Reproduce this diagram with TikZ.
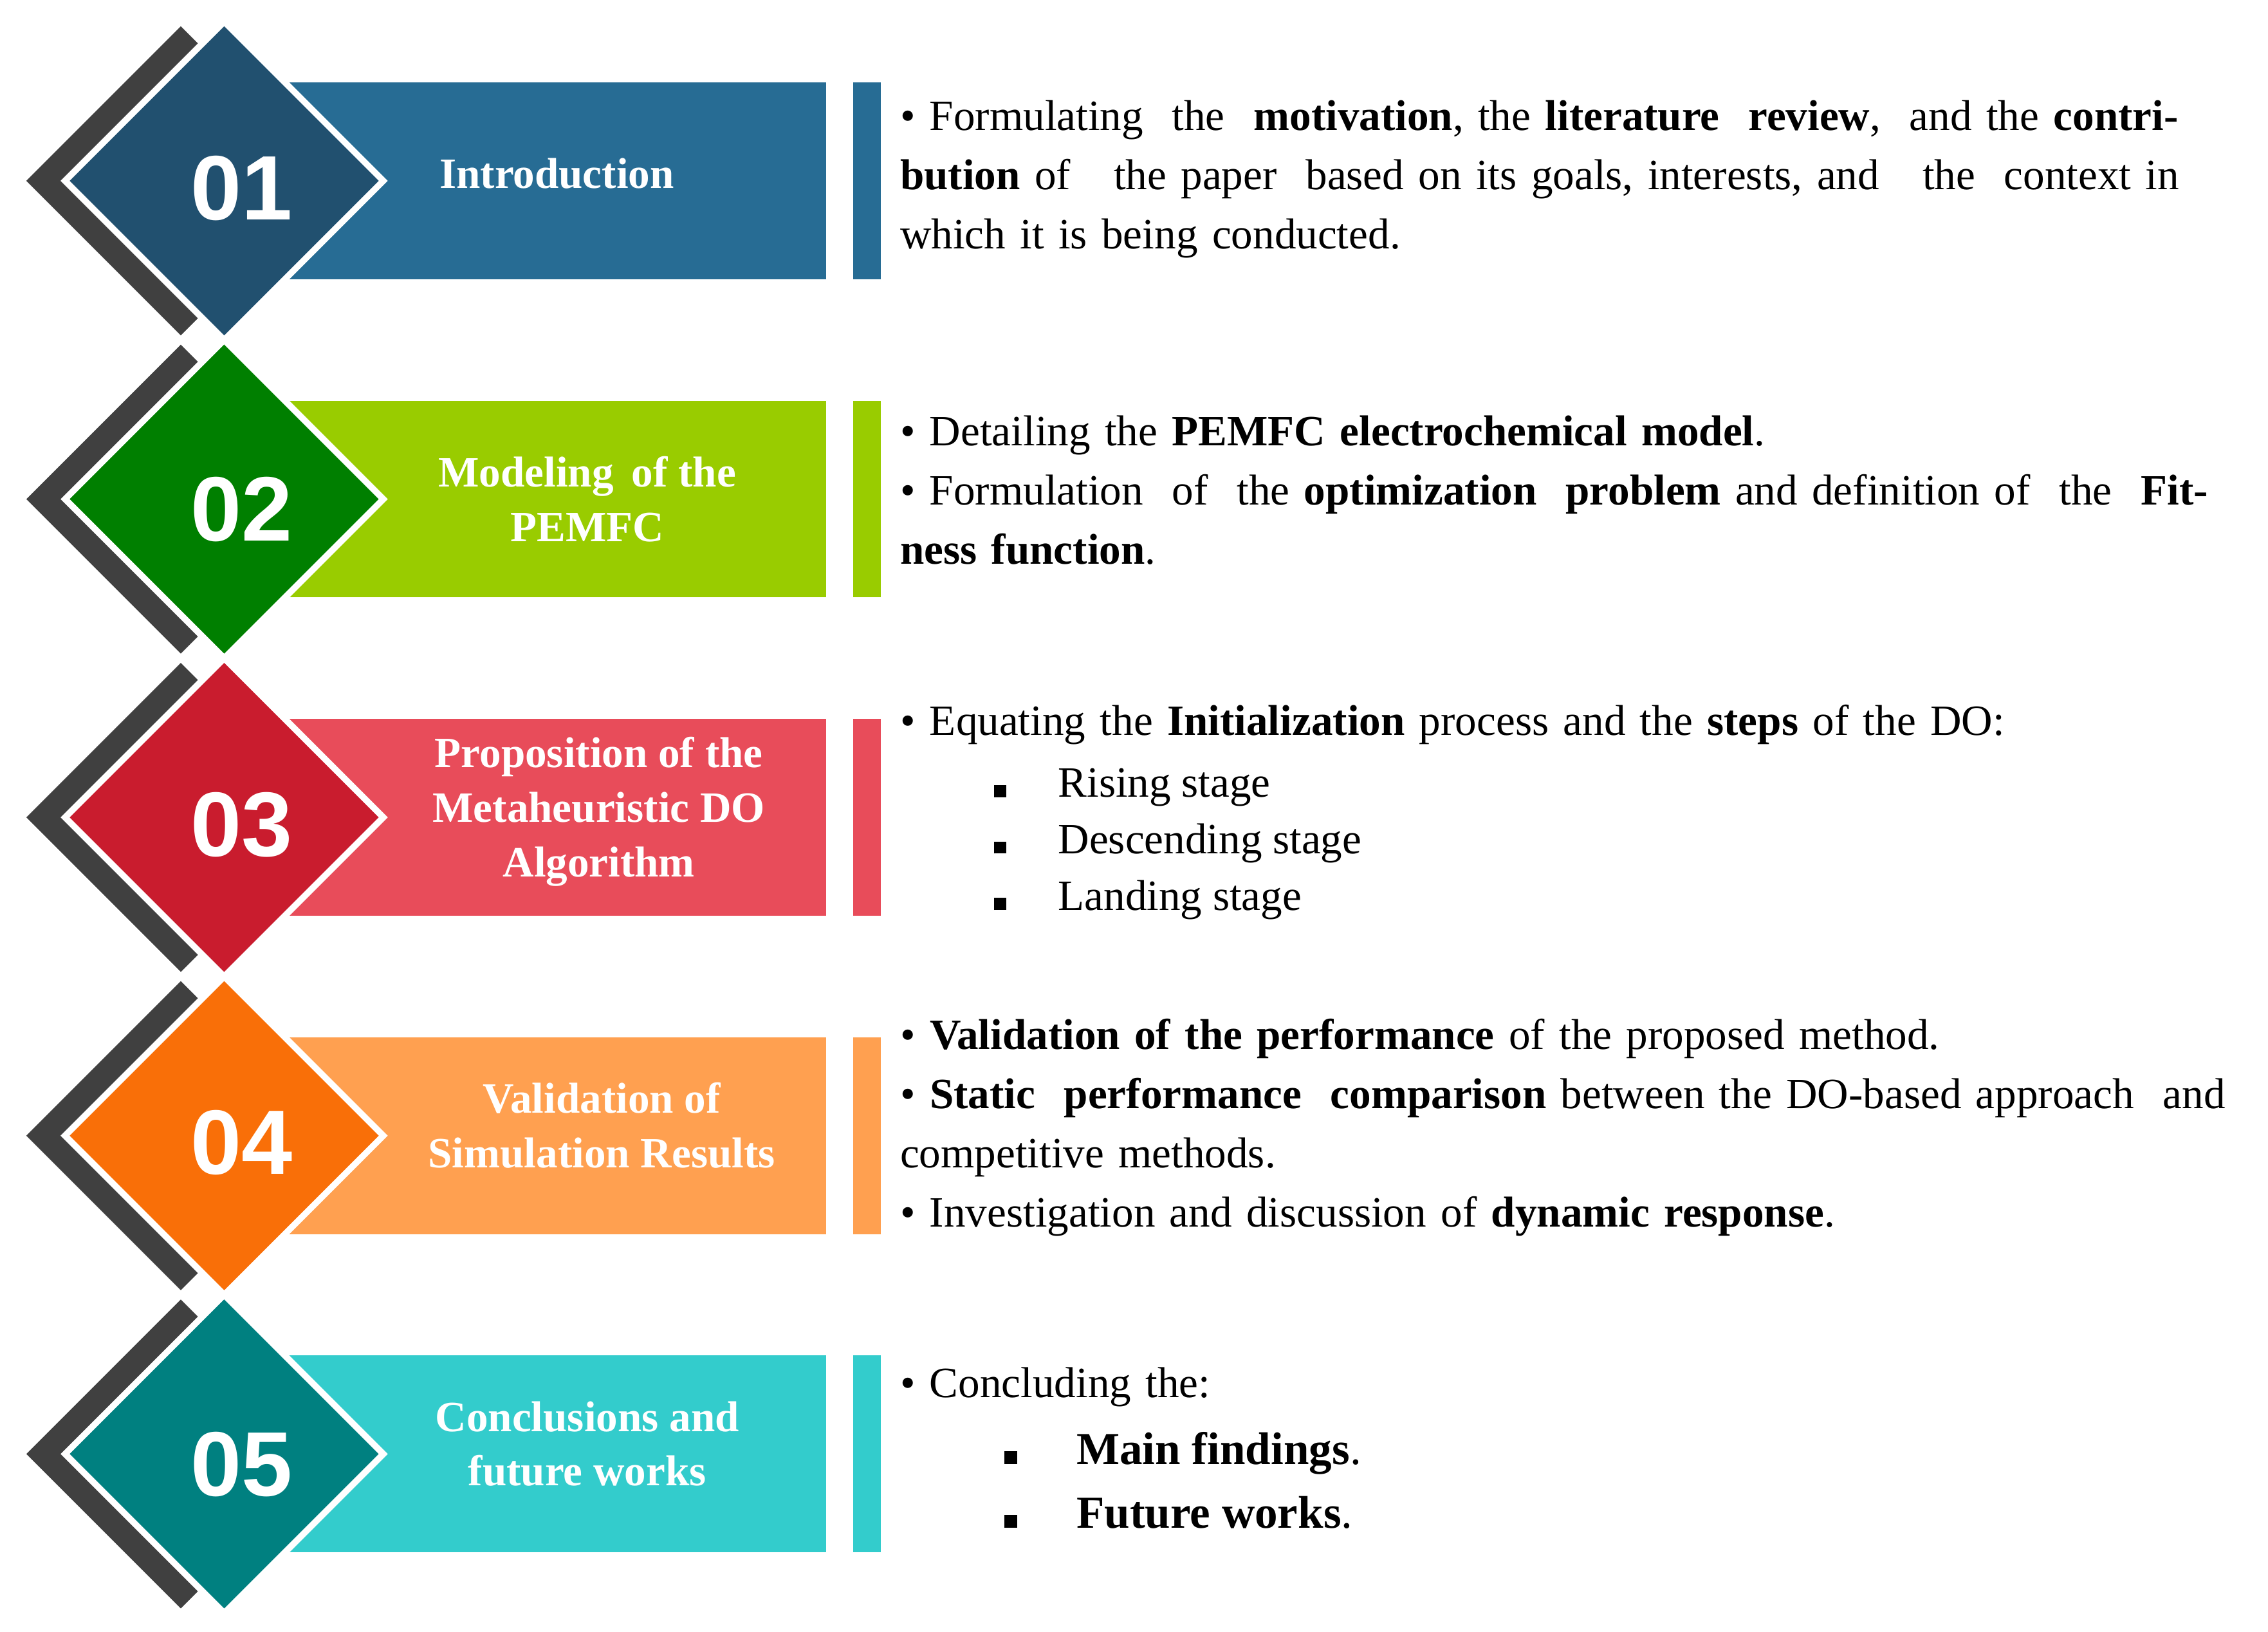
\documentclass[tikz,border=0pt]{standalone}
\usepackage{fontspec}
\setmainfont{Liberation Serif}
\newfontfamily\numfont{Liberation Sans}
\newcommand{\sqb}{\rule{0.28em}{0.28em}}
\begin{document}
\begin{tikzpicture}[x=0.02cm,y=-0.02cm,
 grayd/.style={fill=black!75,draw=white,line width=2.5pt},
 cold/.style={draw=white,line width=2.5pt},
 numtxt/.style={text=white,font=\numfont\bfseries\fontsize{36}{40}\selectfont},
 ttl/.style={text=white,align=center,font=\bfseries\fontsize{17}{21.5}\selectfont},
 body/.style={anchor=north west,text width=18.66cm,inner sep=0pt,font=\fontsize{17}{23.3}\selectfont},
 sub/.style={anchor=base west,inner sep=0pt,font=\fontsize{17}{20}\selectfont},
 subb/.style={anchor=base west,inner sep=0pt,font=\bfseries\fontsize{18}{20}\selectfont}]
\useasboundingbox (0,0) rectangle (1568,1128);
\definecolor{b1}{HTML}{276C94}\definecolor{d1}{HTML}{21506F}
\definecolor{b2}{HTML}{99CC00}\definecolor{d2}{HTML}{007F00}
\definecolor{b3}{HTML}{E84C5A}\definecolor{d3}{HTML}{C91C2E}
\definecolor{b4}{HTML}{FFA050}\definecolor{d4}{HTML}{F96F08}
\definecolor{b5}{HTML}{33CCCC}\definecolor{d5}{HTML}{008080}
\foreach \i/\c in {1/125,2/345,3/565,4/785,5/1005}{
 \path[grayd] (15,\c) -- (125,\c-110) -- (235,\c) -- (125,\c+110) -- cycle;
}
\foreach \i/\c in {1/125,2/345,3/565,4/785,5/1005}{
 \fill[b\i] (195,\c-68) rectangle (571,\c+68);
 \fill[b\i] (590,\c-68) rectangle (609,\c+68);
 \path[cold,fill=d\i] (45,\c) -- (155,\c-110) -- (265,\c) -- (155,\c+110) -- cycle;
}
\node[numtxt] (n1) at (167,130) {01};
\node[numtxt] (n2) at (167,352) {02};
\node[numtxt] (n3) at (167,570) {03};
\node[numtxt] (n4) at (167,790) {04};
\node[numtxt] (n5) at (167,1012) {05};
\node[ttl] (t1) at (385,120) {Introduction};
\node[ttl] (t2) at (406,345) {Modeling\, of the\\PEMFC};
\node[ttl] (t3) at (414,561) {Proposition of the\\Metaheuristic DO\\Algorithm};
\node[ttl] (t4) at (416,778) {Validation of\\Simulation Results};
\node[ttl] (t5) at (406,998) {Conclusions and\\future works};
\node[body] (x1) at (622,69) {\textbullet\ Formulating \ the \ \textbf{motivation}, the \textbf{literature \ review}, \ and the \textbf{contribution} of \ \ the paper \ based on its goals, interests, and \ \ the \ context in which it is being conducted.};
\node[body] (x2) at (622,287) {\textbullet\ Detailing the \textbf{PEMFC electrochemical model}.\\
\textbullet\ Formulation \ of \ the \textbf{optimization \ problem} and definition of \ the \ \textbf{Fitness function}.};
\node[body] (x3) at (622,487) {\textbullet\ Equating the \textbf{Initialization} process and the \textbf{steps} of the DO:};
\node[sub] (s1) at (687,551) {\sqb\hspace{1.2em}Rising stage};
\node[sub] (s2) at (687,590) {\sqb\hspace{1.2em}Descending stage};
\node[sub] (s3) at (687,629) {\sqb\hspace{1.2em}Landing stage};
\node[body] (x4) at (622,704) {\textbullet\ \textbf{Validation of the performance} of the proposed method.\\
\textbullet\ \textbf{Static \ performance \ comparison} between the DO-based approach \ and competitive methods.\\
\textbullet\ Investigation and discussion of \textbf{dynamic response}.};
\node[body] (x5) at (622,945) {\textbullet\ Concluding the:};
\node[subb] (u1) at (694,1012) {\sqb\hspace{1.3em}Main findings\mdseries.};
\node[subb] (u2) at (694,1056) {\sqb\hspace{1.3em}Future works\mdseries.};
\end{tikzpicture}
\end{document}
